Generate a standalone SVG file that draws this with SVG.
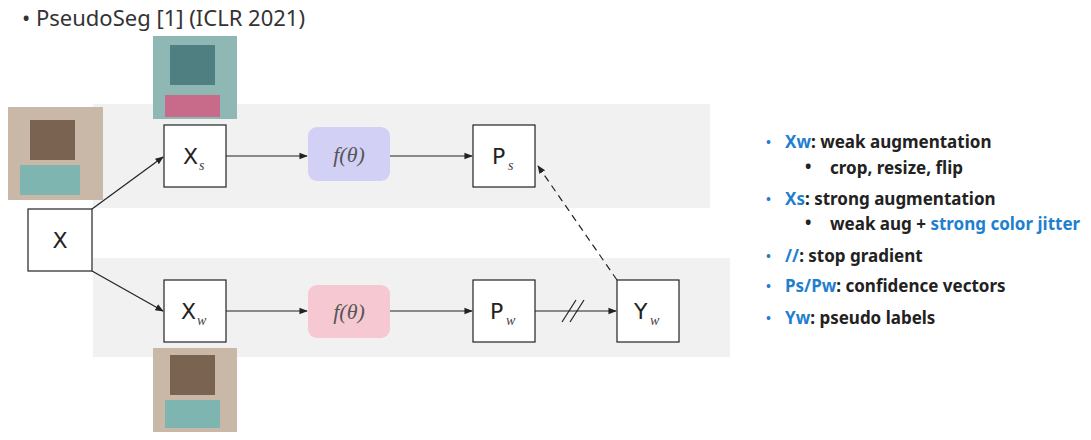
<svg xmlns="http://www.w3.org/2000/svg" width="1091" height="440" viewBox="0 0 1091 440">
<defs>
<marker id="ah" viewBox="0 0 10 10" refX="9" refY="5" markerWidth="7" markerHeight="7" orient="auto"><path d="M0,1 L10,5 L0,9 z" fill="#222"/></marker>
<style>
.box{fill:#fff;stroke:#222;stroke-width:1.2}
.lbl{font-family:"DejaVu Sans",sans-serif;font-size:22px;fill:#222}
.sub{font-family:"Liberation Serif",serif;font-style:italic;font-size:14px;fill:#444}
.fn{font-family:"Liberation Serif",serif;font-style:italic;font-size:22px;fill:#555}
.ln{stroke:#222;stroke-width:1.2;fill:none}
.t{font-family:"Noto Sans",sans-serif;font-weight:bold;font-size:17px;fill:#222}
.b{fill:#1f7fcf}
.d{fill:#1f7fcf;font-size:13px}
</style>
</defs>
<rect width="1091" height="440" fill="#fff"/>
<text x="22" y="26" font-family="Noto Sans,sans-serif" font-size="22" fill="#333">• PseudoSeg [1] (ICLR 2021)</text>
<rect x="93" y="104" width="617" height="104" fill="#f1f1f1"/>
<rect x="93" y="258" width="637" height="99" fill="#f1f1f1"/>
<g id="img-x"><rect x="8" y="107" width="95" height="93" fill="#c9b8a8"/><rect x="30" y="120" width="45" height="40" fill="#7a6350"/><rect x="20" y="165" width="60" height="30" fill="#7fb5b0"/></g>
<g id="img-xs"><rect x="153" y="36" width="84" height="83" fill="#8fb7b4"/><rect x="170" y="45" width="45" height="40" fill="#4f7f80"/><rect x="165" y="95" width="55" height="22" fill="#c86a8a"/></g>
<g id="img-xw"><rect x="153" y="348" width="84" height="84" fill="#c9b8a8"/><rect x="170" y="355" width="45" height="40" fill="#7a6350"/><rect x="165" y="400" width="55" height="28" fill="#7fb5b0"/></g>
<g id="connectors">
<path class="ln" d="M92,209 L163,157" marker-end="url(#ah)"/>
<path class="ln" d="M92,271 L163,311" marker-end="url(#ah)"/>
<path class="ln" d="M226,156 L307,156" marker-end="url(#ah)"/>
<path class="ln" d="M390,156 L472,156" marker-end="url(#ah)"/>
<path class="ln" d="M226,311 L307,311" marker-end="url(#ah)"/>
<path class="ln" d="M390,311 L472,311" marker-end="url(#ah)"/>
<path class="ln" d="M535,311 L616,311" marker-end="url(#ah)"/>
<path class="ln" d="M562,322 L576,300 M570,322 L584,300"/>
<path class="ln" d="M617,280 L538,166" stroke-dasharray="7,5" marker-end="url(#ah)"/>
</g>
<g id="n-x"><rect class="box" x="28" y="209" width="64" height="62"/><text class="lbl" x="60" y="248" text-anchor="middle">X</text></g>
<g id="n-xs"><rect class="box" x="164" y="125" width="62" height="62"/><text class="lbl" x="183" y="164">X</text><text class="sub" x="199" y="170">s</text></g>
<g id="n-fs"><rect x="308" y="127" width="82" height="54" rx="9" fill="#d2d0f5"/><text class="fn" x="349" y="162" text-anchor="middle">f(θ)</text></g>
<g id="n-ps"><rect class="box" x="473" y="125" width="62" height="62"/><text class="lbl" x="492" y="164">P</text><text class="sub" x="508" y="170">s</text></g>
<g id="n-xw"><rect class="box" x="164" y="280" width="62" height="62"/><text class="lbl" x="181" y="319">X</text><text class="sub" x="197" y="325">w</text></g>
<g id="n-fw"><rect x="308" y="285" width="82" height="53" rx="9" fill="#f5c8d2"/><text class="fn" x="349" y="319" text-anchor="middle">f(θ)</text></g>
<g id="n-pw"><rect class="box" x="473" y="280" width="62" height="62"/><text class="lbl" x="490" y="319">P</text><text class="sub" x="506" y="325">w</text></g>
<g id="n-yw"><rect class="box" x="617" y="280" width="62" height="62"/><text class="lbl" x="634" y="319">Y</text><text class="sub" x="650" y="325">w</text></g>
<g id="legend">
<text class="t d" x="766" y="147">•</text><text class="t" x="785" y="148"><tspan class="b">Xw</tspan>: weak augmentation</text>
<text class="t" x="805" y="173" font-size="13">•</text><text class="t" x="830" y="174">crop, resize, flip</text>
<text class="t d" x="766" y="204">•</text><text class="t" x="785" y="205"><tspan class="b">Xs</tspan>: strong augmentation</text>
<text class="t" x="805" y="229" font-size="13">•</text><text class="t" x="830" y="230">weak aug + <tspan class="b">strong color jitter</tspan></text>
<text class="t d" x="766" y="261">•</text><text class="t" x="785" y="262"><tspan class="b">//</tspan>: stop gradient</text>
<text class="t d" x="766" y="291">•</text><text class="t" x="785" y="292"><tspan class="b">Ps/Pw</tspan>: confidence vectors</text>
<text class="t d" x="766" y="323">•</text><text class="t" x="785" y="324"><tspan class="b">Yw</tspan>: pseudo labels</text>
</g>
</svg>
